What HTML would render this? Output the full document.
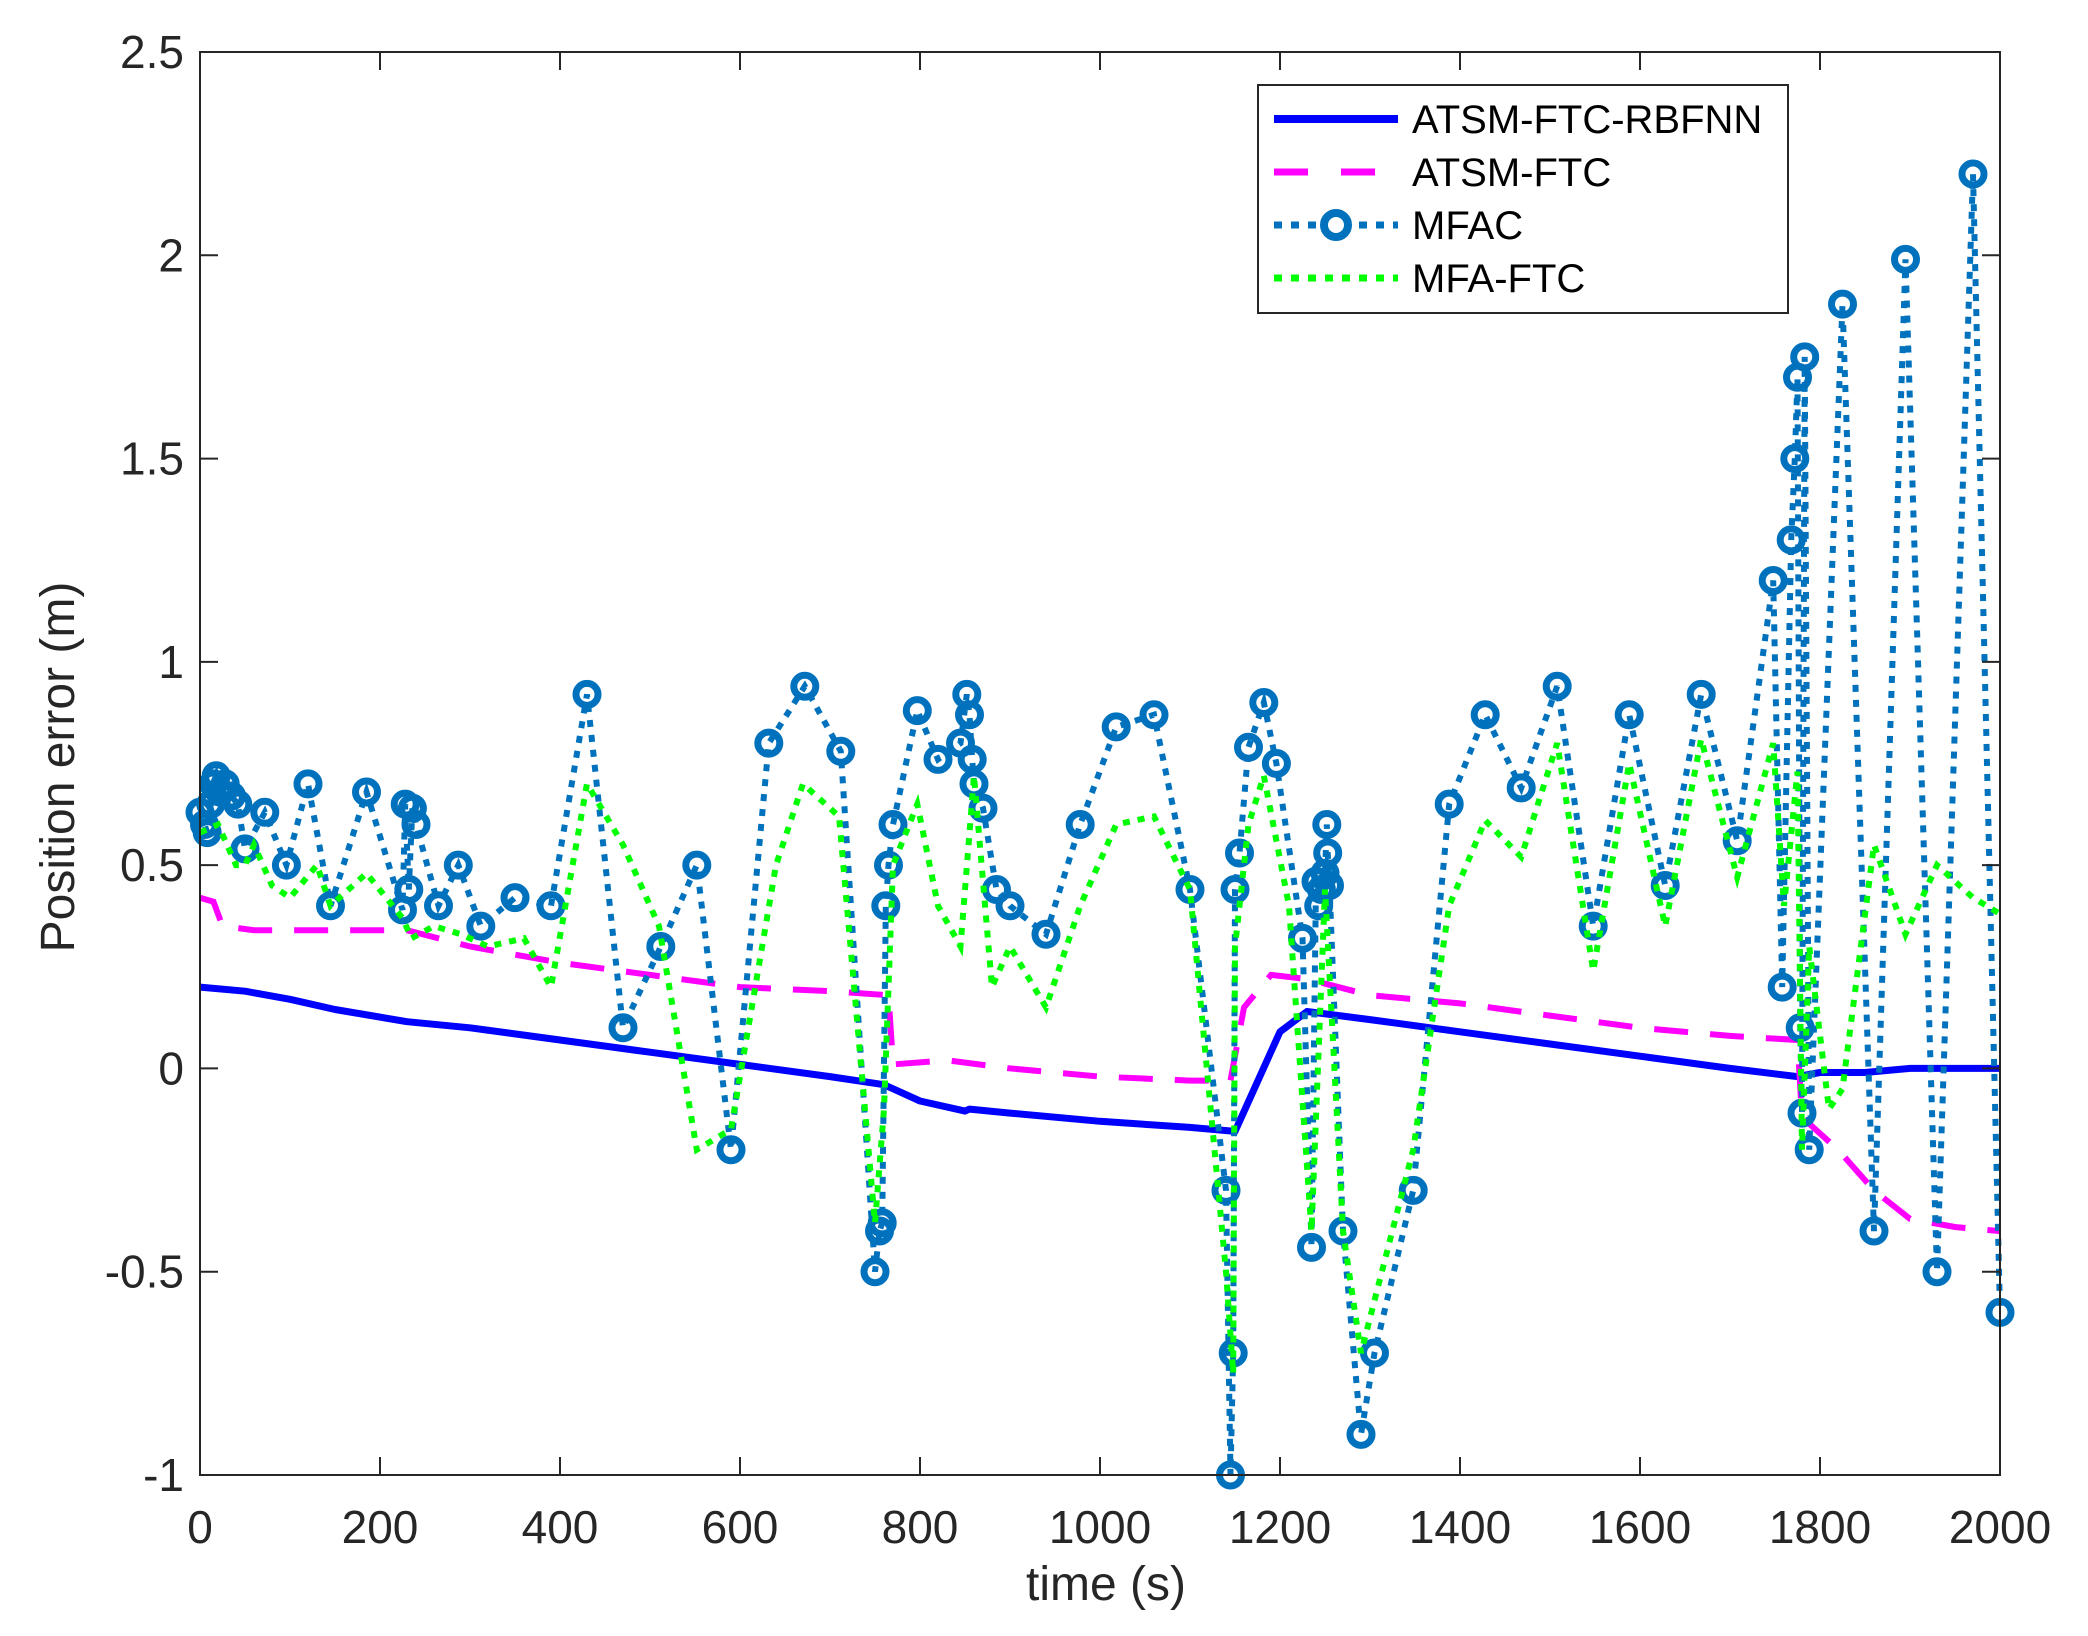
<!DOCTYPE html>
<html><head><meta charset="utf-8"><style>
html,body{margin:0;padding:0;background:#fff}
svg{display:block}
text{font-family:"Liberation Sans",sans-serif}
</style></head><body>
<svg id="s" width="2088" height="1636" viewBox="0 0 2088 1636" xmlns="http://www.w3.org/2000/svg">
<rect width="2088" height="1636" fill="#fff"/>
<g id="plot"></g>
<rect x="200" y="52" width="1800" height="1423" fill="none" stroke="#262626" stroke-width="2"/>
<g id="ticks" stroke="#262626" stroke-width="2"></g>
<g id="labels" fill="#262626" font-size="46"></g>
<text x="1106" y="1600" text-anchor="middle" font-size="48" fill="#262626">time (s)</text>
<text transform="translate(74,767) rotate(-90)" text-anchor="middle" font-size="48" fill="#262626">Position error (m)</text>
<g>
<rect x="1258" y="85" width="530" height="228" fill="#fff" stroke="#262626" stroke-width="2"/>
<line x1="1274" y1="119" x2="1398" y2="119" stroke="#0000FF" stroke-width="8"/>
<line x1="1274" y1="172" x2="1398" y2="172" stroke="#FF00FF" stroke-width="7" stroke-dasharray="34,33"/>
<line x1="1274" y1="225" x2="1398" y2="225" stroke="#0072BD" stroke-width="7" stroke-dasharray="8,9"/>
<circle cx="1336" cy="225" r="12" fill="#fff" stroke="#0072BD" stroke-width="8"/>
<line x1="1274" y1="278" x2="1398" y2="278" stroke="#00FF00" stroke-width="7" stroke-dasharray="8,9"/>
<text x="1412" y="133" font-size="40" fill="#000">ATSM-FTC-RBFNN</text>
<text x="1412" y="186" font-size="40" fill="#000">ATSM-FTC</text>
<text x="1412" y="239" font-size="40" fill="#000">MFAC</text>
<text x="1412" y="292" font-size="40" fill="#000">MFA-FTC</text>
</g>
</svg>
<script>
var X=function(t){return 200+t*0.9},Y=function(v){return 52+(2.5-v)*406.57};
var NS="http://www.w3.org/2000/svg";
function el(p,n,a){var e=document.createElementNS(NS,n);for(var k in a)e.setAttribute(k,a[k]);p.appendChild(e);return e}
function pts(d){return d.map(function(p){return X(p[0]).toFixed(1)+","+Y(p[1]).toFixed(1)}).join(" ")}
var plot=document.getElementById("plot");
var green=[[0,0.58],[20,0.6],[40,0.5],[50,0.5],[60,0.55],[80,0.45],[100,0.42],[130,0.5],[145,0.4],[185,0.48],[225,0.37],[235,0.32],[260,0.35],[290,0.33],[320,0.3],[360,0.32],[390,0.2],[430,0.7],[470,0.55],[510,0.35],[552,-0.2],[590,-0.15],[640,0.5],[670,0.7],[710,0.62],[750,-0.38],[760,-0.1],[770,0.5],[797,0.65],[820,0.4],[845,0.3],[860,0.72],[880,0.2],[900,0.3],[940,0.15],[978,0.4],[1018,0.6],[1060,0.62],[1100,0.44],[1140,-0.5],[1148,-0.75],[1150,0.3],[1165,0.6],[1182,0.72],[1210,0.4],[1235,-0.4],[1250,0.44],[1270,-0.4],[1290,-0.7],[1348,-0.2],[1388,0.4],[1428,0.61],[1468,0.52],[1508,0.8],[1548,0.24],[1588,0.75],[1628,0.35],[1668,0.81],[1708,0.47],[1748,0.8],[1760,0.4],[1775,0.73],[1780,-0.2],[1788,0.3],[1810,-0.1],[1825,-0.05],[1860,0.55],[1895,0.33],[1930,0.5],[1970,0.42],[2000,0.38]];
var mfac=[[0,0.63],[5,0.6],[8,0.58],[12,0.65],[15,0.7],[18,0.72],[22,0.68],[28,0.7],[35,0.67],[42,0.65],[50,0.54],[72,0.63],[96,0.5],[120,0.7],[145,0.4],[185,0.68],[225,0.39],[228,0.65],[232,0.44],[236,0.64],[240,0.6],[265,0.4],[287,0.5],[312,0.35],[350,0.42],[390,0.4],[430,0.92],[470,0.1],[512,0.3],[552,0.5],[590,-0.2],[632,0.8],[672,0.94],[712,0.78],[750,-0.5],[755,-0.4],[758,-0.38],[762,0.4],[765,0.5],[770,0.6],[797,0.88],[820,0.76],[845,0.8],[852,0.92],[855,0.87],[858,0.76],[860,0.7],[870,0.64],[885,0.44],[900,0.4],[940,0.33],[978,0.6],[1018,0.84],[1060,0.87],[1100,0.44],[1140,-0.3],[1145,-1],[1148,-0.7],[1150,0.44],[1155,0.53],[1165,0.79],[1182,0.9],[1196,0.75],[1225,0.32],[1235,-0.44],[1240,0.46],[1243,0.4],[1246,0.44],[1250,0.48],[1252,0.6],[1253,0.53],[1255,0.45],[1270,-0.4],[1290,-0.9],[1305,-0.7],[1348,-0.3],[1388,0.65],[1428,0.87],[1468,0.69],[1508,0.94],[1548,0.35],[1588,0.87],[1628,0.45],[1668,0.92],[1708,0.56],[1748,1.2],[1758,0.2],[1768,1.3],[1772,1.5],[1775,1.7],[1778,0.1],[1780,-0.11],[1783,1.75],[1788,-0.2],[1825,1.88],[1860,-0.4],[1895,1.99],[1930,-0.5],[1970,2.2],[2000,-0.6]];
var mag=[[0,0.42],[15,0.41],[25,0.35],[60,0.34],[230,0.34],[300,0.3],[400,0.26],[500,0.23],[600,0.2],[700,0.19],[765,0.18],[770,0.01],[830,0.02],[900,0],[1000,-0.02],[1100,-0.03],[1145,-0.03],[1160,0.15],[1190,0.23],[1230,0.22],[1300,0.18],[1400,0.16],[1500,0.13],[1600,0.1],[1700,0.08],[1775,0.07],[1780,-0.12],[1820,-0.2],[1860,-0.3],[1900,-0.37],[1950,-0.39],[2000,-0.4]];
var blue=[[0,0.2],[50,0.19],[100,0.17],[150,0.145],[230,0.115],[300,0.1],[400,0.07],[500,0.04],[600,0.01],[700,-0.02],[760,-0.04],[800,-0.08],[850,-0.105],[855,-0.1],[900,-0.11],[1000,-0.13],[1100,-0.145],[1150,-0.155],[1200,0.09],[1230,0.14],[1300,0.12],[1400,0.09],[1500,0.06],[1600,0.03],[1700,0],[1775,-0.02],[1800,-0.01],[1850,-0.01],[1900,0],[2000,0]];
el(plot,"polyline",{points:pts(blue),fill:"none",stroke:"#0000FF","stroke-width":7,"stroke-linejoin":"round"});
el(plot,"polyline",{points:pts(mag),fill:"none",stroke:"#FF00FF","stroke-width":6,"stroke-dasharray":"34,22"});
el(plot,"polyline",{points:pts(mfac),fill:"none",stroke:"#0072BD","stroke-width":6,"stroke-dasharray":"7,8"});
mfac.forEach(function(p){el(plot,"circle",{cx:X(p[0]),cy:Y(p[1]),r:11,fill:"none",stroke:"#0072BD","stroke-width":7})});
el(plot,"polyline",{points:pts(green),fill:"none",stroke:"#00FF00","stroke-width":6,"stroke-dasharray":"7,8"});
var tk=document.getElementById("ticks"),lb=document.getElementById("labels");
for(var t=0;t<=2000;t+=200){var x=X(t);el(tk,"line",{x1:x,y1:1475,x2:x,y2:1457});el(tk,"line",{x1:x,y1:52,x2:x,y2:70});var e=el(lb,"text",{x:x,y:1543,"text-anchor":"middle"});e.textContent=t;}
var yl=["-1","-0.5","0","0.5","1","1.5","2","2.5"];
for(var i=0;i<8;i++){var v=-1+i*0.5,y=Y(v);el(tk,"line",{x1:200,y1:y,x2:218,y2:y});el(tk,"line",{x1:2000,y1:y,x2:1982,y2:y});var e=el(lb,"text",{x:184,y:y+16,"text-anchor":"end"});e.textContent=yl[i];}
</script>
</body></html>
